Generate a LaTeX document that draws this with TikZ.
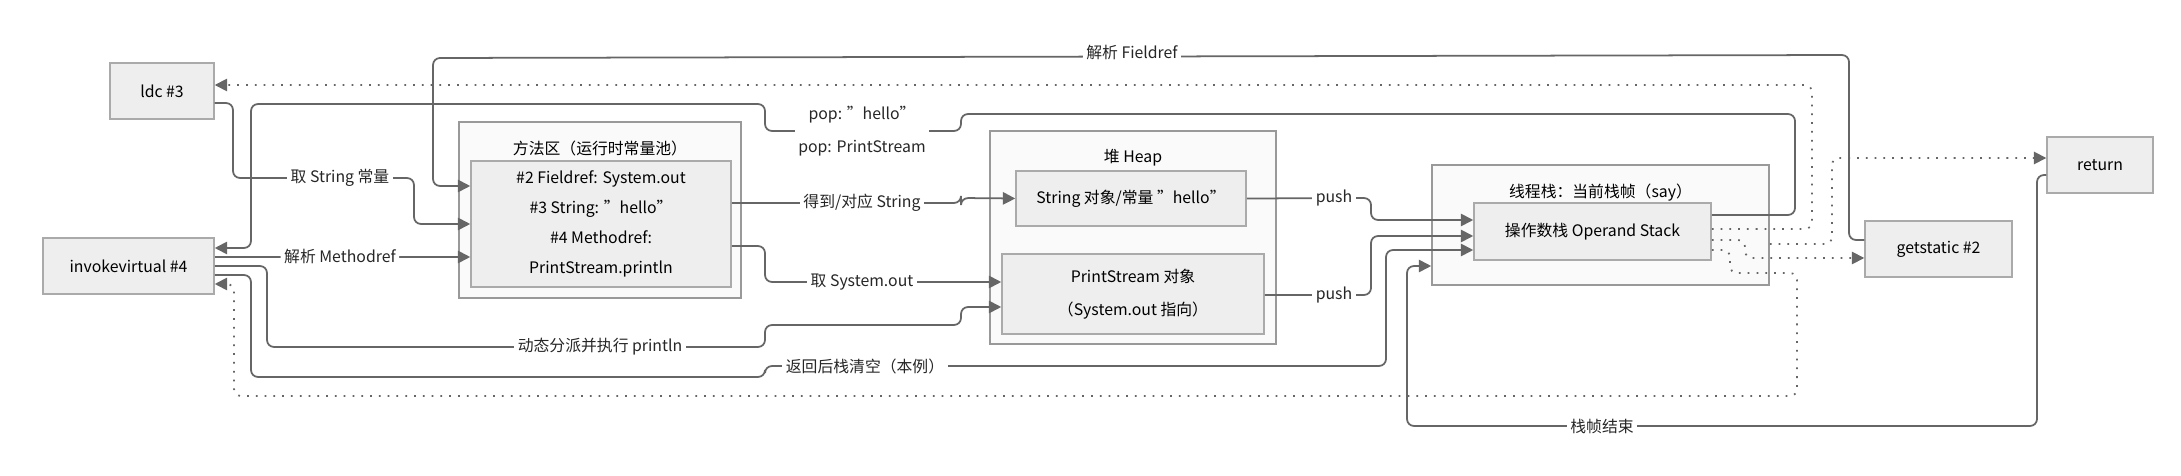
\documentclass[tikz,border=0pt]{standalone}
\usepackage{fontspec}
\setmainfont{Noto Sans CJK SC}
\usetikzlibrary{positioning,arrows.meta}
\definecolor{linegray}{HTML}{666666}
\definecolor{boxfill}{HTML}{EEEEEE}
\definecolor{boxline}{HTML}{AAAAAA}
\definecolor{areafill}{HTML}{FAFAFA}
\definecolor{arealine}{HTML}{999999}

\begin{document}
\begin{tikzpicture}[%
    x=0.01cm,
    y=-0.01cm,
    font=\fontsize{4.5}{6.5}\selectfont,
    >={Triangle[length=3.5pt,width=3.5pt]},
    opbox/.style={%
      draw=boxline,
      fill=boxfill,
      align=center,
      inner sep=0pt
    },
    area/.style={%
      draw=arealine,
      fill=areafill,
      inner sep=0pt
    },
    flow/.style={%
      draw=linegray,
      rounded corners=2pt,
      line width=0.5pt
    },
    hint/.style={%
      flow,
      dotted
    },
    lbl/.style={%
      fill=white,
      inner sep=1pt,
      text=black!85
    }
  ]
    \useasboundingbox (0,0) rectangle (2181,476);

    % containers
    \node[area, minimum width=2.82cm, minimum height=1.76cm] (method) at (600,210) {};
    \node[below=2pt of method.north] {方法区（运行时常量池）};
    \node[area, minimum width=2.86cm, minimum height=2.13cm] (heap) at (1133,237.5) {};
    \node[below=2pt of heap.north] {堆 Heap};
    \node[area, minimum width=3.37cm, minimum height=1.20cm] (thread) at (1600.5,225) {};
    \node[below=2pt of thread.north] {线程栈：当前栈帧（say）};

    % boxes
    \node[opbox, minimum width=1.04cm, minimum height=0.56cm] (ldc) at (162,91) {ldc \#3};
    \node[opbox, minimum width=1.71cm, minimum height=0.56cm] (invoke) at (128.5,266) {invokevirtual \#4};
    \node[opbox, minimum width=2.60cm, minimum height=1.26cm] (pool) at (601,224)
      {\#2 Fieldref: System.out\\[2pt] \#3 String: "hello"\\[2pt] \#4 Methodref:\\[2pt] PrintStream.println};
    \node[opbox, minimum width=2.30cm, minimum height=0.55cm] (strobj) at (1131,198.5) {String 对象/常量 "hello"};
    \node[opbox, minimum width=2.62cm, minimum height=0.80cm] (psobj) at (1133,294) {PrintStream 对象\\[3pt]（System.out 指向）};
    \node[opbox, minimum width=2.37cm, minimum height=0.57cm] (stack) at (1592.5,231.5) {操作数栈 Operand Stack};
    \node[opbox, minimum width=1.47cm, minimum height=0.56cm] (getst) at (1938.5,249) {getstatic \#2};
    \node[opbox, minimum width=1.06cm, minimum height=0.56cm] (ret) at (2100,165) {return};

    % connectors
    \draw[flow,->] (getst.west |- 0,240) -- (1849,240) -- (1849,55) -- (433,58) -- (433,186) -- (pool.west |- 0,186);
    \node[lbl] at (1132,53) {解析 Fieldref};
    \draw[hint,->] (stack.east |- 0,229) -- (1812,229) -- (1812,85) -- (ldc.east |- 0,85);
    \draw[flow,->] (stack.east |- 0,215) -- (1795,215) -- (1795,114) -- (961,114) -- (961,131)
      -- (765,131) -- (765,104) -- (251,104) -- (251,248) -- (invoke.east |- 0,248);
    \node[lbl, align=center] at (862,131) {pop: "hello"\\[3pt] pop: PrintStream};
    \draw[flow,->] (ldc.east |- 0,103) -- (233,103) -- (233,178) -- (414,178) -- (414,224) -- (pool.west |- 0,224);
    \node[lbl] at (340,178) {取 String 常量};
    \draw[flow,->] (invoke.east |- 0,257) -- (pool.west |- 0,257) node[lbl, pos=0.49] {解析 Methodref};
    \draw[flow,->] (invoke.east |- 0,266) -- (267,266) -- (267,347) -- (765,347) -- (765,325)
      -- (961,325) -- (961,307) -- (psobj.west |- 0,307);
    \node[lbl] at (600,347) {动态分派并执行 println};
    \draw[flow,->] (invoke.east |- 0,275) -- (251,275) -- (251,377) -- (765,377) -- (765,366)
      -- (1386,366) -- (1386,250) -- (stack.west |- 0,250);
    \node[lbl] at (865,366) {返回后栈清空（本例）};
    \draw[hint,->] (stack.east |- 0,240) -- (1745,240) -- (1745,258) -- (getst.west |- 0,258);
    \draw[hint,->] (stack.east |- 0,250) -- (1730,250) -- (1730,273) -- (1797,273) -- (1797,396)
      -- (234,396) -- (234,284) -- (invoke.east |- 0,284);
    \draw[hint,->] (thread.east |- 0,244) -- (1832,244) -- (1832,158) -- (ret.west |- 0,158);
    \draw[flow,->] (strobj.east) -- (1371,198) -- (1371,220) -- (stack.west |- 0,220);
    \node[lbl] at (1334,198) {push};
    \draw[flow,->] (psobj.east |- 0,295) -- (1371,295) -- (1371,236) -- (stack.west |- 0,236);
    \node[lbl] at (1334,295) {push};
    \draw[flow,->] (pool.east |- 0,203) -- (961,203) -- (961,198) -- (strobj.west);
    \node[lbl] at (862,203) {得到/对应 String};
    \draw[flow,->] (pool.east |- 0,246) -- (765,246) -- (765,282) -- (psobj.west |- 0,282);
    \node[lbl] at (862,282) {取 System.out};
    \draw[flow,->] (ret.west |- 0,175) -- (2037,175) -- (2037,426) -- (1407,426) -- (1407,266) -- (thread.west |- 0,266);
    \node[lbl] at (1602,426) {栈帧结束};
  \end{tikzpicture}
\end{document}
